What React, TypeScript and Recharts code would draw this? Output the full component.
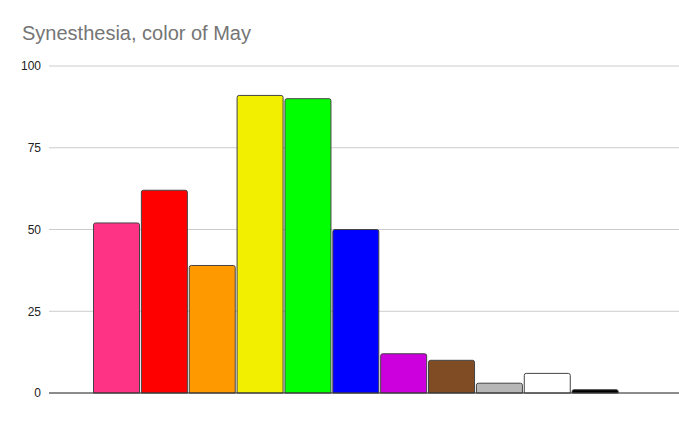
import React from 'react'
import { BarChart, Bar, XAxis, YAxis, CartesianGrid, Cell } from 'recharts'

// colour names asked about, one bar each
const CATEGORIES = ['Pink', 'Red', 'Orange', 'Yellow', 'Green', 'Blue', 'Purple', 'Brown', 'Gray', 'White', 'Black']
const VOTES = [52, 62, 39, 91, 90, 50, 12, 10, 3, 6, 1]
const BAR_COLORS = ['#FF3385', '#FF0000', '#FF9900', '#F2EF00', '#00FF00', '#0000FF', '#CC00DD', '#7F4C24', '#B7B7B7', '#FFFFFF', '#000000']
const Y_TICKS = [0, 25, 50, 75, 100]

const data = CATEGORIES.map((name, i) => ({ name, value: VOTES[i] }))

const FONT = '"Liberation Sans", Arial, sans-serif'

export default function App() {
  return (
    <div style={{ position: 'absolute', top: 0, left: 0, width: 679, height: 422, background: '#fff', fontFamily: FONT }}>
      <div
        style={{
          position: 'absolute',
          top: 23,
          left: 22,
          fontSize: 20,
          lineHeight: '20px',
          color: '#757575',
          whiteSpace: 'nowrap',
        }}
      >
        Synesthesia, color of May
      </div>
      <BarChart
        width={679}
        height={422}
        data={data}
        margin={{ top: 66, right: 0, left: 0, bottom: 0 }}
        barCategoryGap={1}
      >
        <CartesianGrid horizontal vertical={false} stroke="#cccccc" />
        <XAxis
          dataKey="name"
          tick={false}
          tickLine={false}
          height={29}
          padding={{ left: 43.5, right: 60 }}
          axisLine={{ stroke: '#333333' }}
        />
        <YAxis
          domain={[0, 100]}
          ticks={Y_TICKS}
          width={49}
          axisLine={false}
          tickLine={false}
          tick={{ fontSize: 12, fill: '#222222', fontFamily: FONT }}
        />
        <Bar dataKey="value" stroke="#444444" strokeWidth={1} radius={[2, 2, 0, 0]} isAnimationActive={false}>
          {data.map((d, i) => (
            <Cell key={d.name} fill={BAR_COLORS[i]} />
          ))}
        </Bar>
      </BarChart>
    </div>
  )
}
